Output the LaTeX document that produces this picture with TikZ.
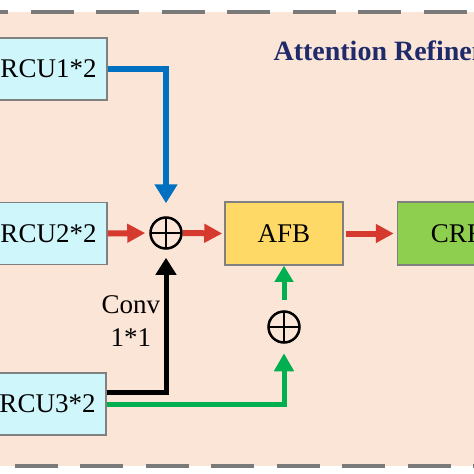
\documentclass[tikz,border=0pt]{standalone}
\usepackage{fontspec}
\setmainfont{Liberation Serif}
\usepackage{xcolor}
\usetikzlibrary{arrows.meta, positioning, calc}
\definecolor{bgpeach}{HTML}{FBE5D6}
\definecolor{dashgray}{HTML}{7A7A7A}
\definecolor{boxgray}{HTML}{808080}
\definecolor{rcucyan}{HTML}{CFF6FB}
\definecolor{afbgold}{HTML}{FFD966}
\definecolor{crfgreen}{HTML}{8FCF4F}
\definecolor{titlenavy}{HTML}{1F2A6B}
\definecolor{arrblue}{HTML}{0070C0}
\definecolor{arrred}{HTML}{D63A2F}
\definecolor{arrgreen}{HTML}{00B050}

\begin{document}
\begin{tikzpicture}[x=1pt, y=-1pt, every node/.style={font=\fontsize{27}{33}\selectfont},
  rcubox/.style={draw=boxgray, line width=1.5pt, fill=rcucyan, minimum width=117pt, minimum height=62pt},
  blockbox/.style={draw=boxgray, line width=1.5pt, minimum width=118pt, minimum height=63pt},
  sumnode/.style={circle, draw, line width=2.5pt, minimum size=31pt, inner sep=0pt,
    path picture={\draw[line width=2pt] (path picture bounding box.north) -- (path picture bounding box.south)
      (path picture bounding box.west) -- (path picture bounding box.east);}},
  dashline/.style={draw=dashgray, line width=4.5pt, dash pattern=on 43pt off 22.5pt},
  redarrow/.style={arrred, line width=6pt, -{Triangle[length=18pt, width=18pt]}}]
\useasboundingbox (0,0) rectangle (474,474);
\clip (0,0) rectangle (474,474);
\fill[bgpeach] (-5,12) rectangle (480,466);
\draw[dashline] (-35,12) -- (500,12);
\draw[dashline] (-51,466) -- (500,466);

\node (title) [anchor=base west, text=titlenavy, font=\fontsize{28}{34}\selectfont\bfseries] at (270,60) {Attention Refinement};

\node (rcu1) [rcubox] at (48.5,69) {RCU1*2};
\node (rcu2) [rcubox] at (48.5,233.5) {RCU2*2};
\node (rcu3) [rcubox] at (47.5,404) {RCU3*2};
\node (sum1) [sumnode] at (166,233) {};
\node (afb) [blockbox, fill=afbgold] at (284,233.5) {AFB};
\node (crf) [blockbox, fill=crfgreen, right=53pt of afb] {CRF};
\node (sum2) [sumnode] at (284,327) {};

\draw[arrblue, line width=5.5pt, -{Triangle[length=19pt, width=22pt]}, shorten >=13pt] (rcu1.east) -| (sum1.north);
\draw[redarrow, shorten >=4pt] (rcu2.east) -- (sum1.west);
\draw[redarrow, shorten >=2pt] (sum1.east) -- (afb.west);
\draw[redarrow, shorten <=2pt, shorten >=3pt] (afb.east) -- (crf.west);
\draw[black, line width=5pt, -{Triangle[length=17pt, width=20pt]}, shorten >=8pt] ([yshift=12pt]rcu3.east) -| (sum1.south)
  node[pos=0.75, left=0pt, align=center] {Conv\\1*1};
\draw[arrgreen, line width=5pt, -{Triangle[length=18pt, width=19pt]}, shorten >=9.5pt] (rcu3.east) -| (sum2.south);
\draw[arrgreen, line width=5pt, -{Triangle[length=16pt, width=18pt]}, shorten <=10pt] (sum2.north) -- (afb.south);
\end{tikzpicture}
\end{document}
